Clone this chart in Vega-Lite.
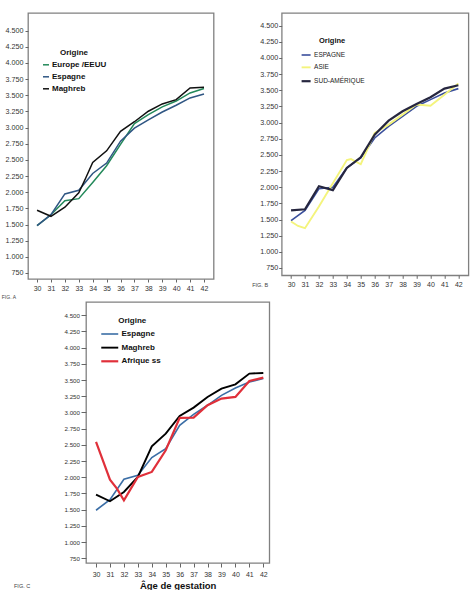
{
  "$schema": "https://vega.github.io/schema/vega-lite/v6.json",
  "background": "white",
  "padding": {"left": 0, "top": 12, "right": 0, "bottom": 0},
  "datasets": {
    "figA": [
      {"age": 30, "poids": 1483, "origine": "Europe /EEUU"},
      {"age": 31, "poids": 1650, "origine": "Europe /EEUU"},
      {"age": 32, "poids": 1869, "origine": "Europe /EEUU"},
      {"age": 33, "poids": 1900, "origine": "Europe /EEUU"},
      {"age": 34, "poids": 2150, "origine": "Europe /EEUU"},
      {"age": 35, "poids": 2410, "origine": "Europe /EEUU"},
      {"age": 36, "poids": 2740, "origine": "Europe /EEUU"},
      {"age": 37, "poids": 3060, "origine": "Europe /EEUU"},
      {"age": 38, "poids": 3200, "origine": "Europe /EEUU"},
      {"age": 39, "poids": 3320, "origine": "Europe /EEUU"},
      {"age": 40, "poids": 3410, "origine": "Europe /EEUU"},
      {"age": 41, "poids": 3535, "origine": "Europe /EEUU"},
      {"age": 42, "poids": 3603, "origine": "Europe /EEUU"},
      {"age": 30, "poids": 1483, "origine": "Espagne"},
      {"age": 31, "poids": 1653, "origine": "Espagne"},
      {"age": 32, "poids": 1973, "origine": "Espagne"},
      {"age": 33, "poids": 2030, "origine": "Espagne"},
      {"age": 34, "poids": 2290, "origine": "Espagne"},
      {"age": 35, "poids": 2450, "origine": "Espagne"},
      {"age": 36, "poids": 2790, "origine": "Espagne"},
      {"age": 37, "poids": 2990, "origine": "Espagne"},
      {"age": 38, "poids": 3120, "origine": "Espagne"},
      {"age": 39, "poids": 3240, "origine": "Espagne"},
      {"age": 40, "poids": 3345, "origine": "Espagne"},
      {"age": 41, "poids": 3458, "origine": "Espagne"},
      {"age": 42, "poids": 3520, "origine": "Espagne"},
      {"age": 30, "poids": 1720, "origine": "Maghreb"},
      {"age": 31, "poids": 1627, "origine": "Maghreb"},
      {"age": 32, "poids": 1767, "origine": "Maghreb"},
      {"age": 33, "poids": 1990, "origine": "Maghreb"},
      {"age": 33.5, "poids": 2220, "origine": "Maghreb"},
      {"age": 34, "poids": 2460, "origine": "Maghreb"},
      {"age": 35, "poids": 2640, "origine": "Maghreb"},
      {"age": 36, "poids": 2942, "origine": "Maghreb"},
      {"age": 37, "poids": 3090, "origine": "Maghreb"},
      {"age": 38, "poids": 3252, "origine": "Maghreb"},
      {"age": 39, "poids": 3365, "origine": "Maghreb"},
      {"age": 40, "poids": 3432, "origine": "Maghreb"},
      {"age": 41, "poids": 3613, "origine": "Maghreb"},
      {"age": 42, "poids": 3623, "origine": "Maghreb"}
    ],
    "figB": [
      {"age": 30, "poids": 1483, "origine": "ESPAGNE"},
      {"age": 31, "poids": 1640, "origine": "ESPAGNE"},
      {"age": 32, "poids": 1975, "origine": "ESPAGNE"},
      {"age": 33, "poids": 2000, "origine": "ESPAGNE"},
      {"age": 34, "poids": 2298, "origine": "ESPAGNE"},
      {"age": 35, "poids": 2452, "origine": "ESPAGNE"},
      {"age": 36, "poids": 2762, "origine": "ESPAGNE"},
      {"age": 37, "poids": 2942, "origine": "ESPAGNE"},
      {"age": 38, "poids": 3097, "origine": "ESPAGNE"},
      {"age": 39, "poids": 3252, "origine": "ESPAGNE"},
      {"age": 40, "poids": 3355, "origine": "ESPAGNE"},
      {"age": 41, "poids": 3458, "origine": "ESPAGNE"},
      {"age": 42, "poids": 3525, "origine": "ESPAGNE"},
      {"age": 30, "poids": 1470, "origine": "ASIE"},
      {"age": 30.5, "poids": 1400, "origine": "ASIE"},
      {"age": 31, "poids": 1365, "origine": "ASIE"},
      {"age": 32, "poids": 1700, "origine": "ASIE"},
      {"age": 33, "poids": 2060, "origine": "ASIE"},
      {"age": 34, "poids": 2420, "origine": "ASIE"},
      {"age": 34.3, "poids": 2435, "origine": "ASIE"},
      {"age": 35, "poids": 2355, "origine": "ASIE"},
      {"age": 36, "poids": 2839, "origine": "ASIE"},
      {"age": 37, "poids": 2968, "origine": "ASIE"},
      {"age": 38, "poids": 3123, "origine": "ASIE"},
      {"age": 39, "poids": 3278, "origine": "ASIE"},
      {"age": 40, "poids": 3260, "origine": "ASIE"},
      {"age": 41, "poids": 3432, "origine": "ASIE"},
      {"age": 42, "poids": 3605, "origine": "ASIE"},
      {"age": 30, "poids": 1640, "origine": "SUD-AMÉRIQUE"},
      {"age": 31, "poids": 1658, "origine": "SUD-AMÉRIQUE"},
      {"age": 32, "poids": 2014, "origine": "SUD-AMÉRIQUE"},
      {"age": 33, "poids": 1955, "origine": "SUD-AMÉRIQUE"},
      {"age": 34, "poids": 2298, "origine": "SUD-AMÉRIQUE"},
      {"age": 35, "poids": 2463, "origine": "SUD-AMÉRIQUE"},
      {"age": 36, "poids": 2813, "origine": "SUD-AMÉRIQUE"},
      {"age": 37, "poids": 3030, "origine": "SUD-AMÉRIQUE"},
      {"age": 38, "poids": 3174, "origine": "SUD-AMÉRIQUE"},
      {"age": 39, "poids": 3288, "origine": "SUD-AMÉRIQUE"},
      {"age": 40, "poids": 3391, "origine": "SUD-AMÉRIQUE"},
      {"age": 41, "poids": 3525, "origine": "SUD-AMÉRIQUE"},
      {"age": 42, "poids": 3577, "origine": "SUD-AMÉRIQUE"}
    ],
    "figC": [
      {"age": 30, "poids": 1491, "origine": "Espagne"},
      {"age": 31, "poids": 1655, "origine": "Espagne"},
      {"age": 32, "poids": 1969, "origine": "Espagne"},
      {"age": 33, "poids": 2031, "origine": "Espagne"},
      {"age": 34, "poids": 2304, "origine": "Espagne"},
      {"age": 35, "poids": 2442, "origine": "Espagne"},
      {"age": 36, "poids": 2802, "origine": "Espagne"},
      {"age": 37, "poids": 2972, "origine": "Espagne"},
      {"age": 38, "poids": 3111, "origine": "Espagne"},
      {"age": 39, "poids": 3265, "origine": "Espagne"},
      {"age": 40, "poids": 3379, "origine": "Espagne"},
      {"age": 41, "poids": 3471, "origine": "Espagne"},
      {"age": 42, "poids": 3523, "origine": "Espagne"},
      {"age": 30, "poids": 1733, "origine": "Maghreb"},
      {"age": 31, "poids": 1630, "origine": "Maghreb"},
      {"age": 32, "poids": 1774, "origine": "Maghreb"},
      {"age": 33, "poids": 2005, "origine": "Maghreb"},
      {"age": 34, "poids": 2478, "origine": "Maghreb"},
      {"age": 35, "poids": 2674, "origine": "Maghreb"},
      {"age": 36, "poids": 2947, "origine": "Maghreb"},
      {"age": 37, "poids": 3075, "origine": "Maghreb"},
      {"age": 38, "poids": 3240, "origine": "Maghreb"},
      {"age": 39, "poids": 3368, "origine": "Maghreb"},
      {"age": 40, "poids": 3435, "origine": "Maghreb"},
      {"age": 41, "poids": 3600, "origine": "Maghreb"},
      {"age": 42, "poids": 3610, "origine": "Maghreb"},
      {"age": 30, "poids": 2545, "origine": "Afrique ss"},
      {"age": 31, "poids": 1964, "origine": "Afrique ss"},
      {"age": 31.5, "poids": 1825, "origine": "Afrique ss"},
      {"age": 32, "poids": 1645, "origine": "Afrique ss"},
      {"age": 33, "poids": 2005, "origine": "Afrique ss"},
      {"age": 34, "poids": 2082, "origine": "Afrique ss"},
      {"age": 35, "poids": 2417, "origine": "Afrique ss"},
      {"age": 36, "poids": 2916, "origine": "Afrique ss"},
      {"age": 37, "poids": 2921, "origine": "Afrique ss"},
      {"age": 38, "poids": 3111, "origine": "Afrique ss"},
      {"age": 39, "poids": 3214, "origine": "Afrique ss"},
      {"age": 40, "poids": 3240, "origine": "Afrique ss"},
      {"age": 41, "poids": 3487, "origine": "Afrique ss"},
      {"age": 42, "poids": 3538, "origine": "Afrique ss"}
    ]
  },
  "vconcat": [
    {
      "hconcat": [
        {
          "width": 185.6,
          "height": 266,
          "view": {"stroke": "#808080", "strokeWidth": 1.3},
          "data": {"name": "figA"},
          "mark": {"type": "line", "interpolate": "linear"},
          "encoding": {
            "x": {
              "field": "age", "type": "quantitative",
              "scale": {"domain": [29.35, 42.69], "nice": false, "zero": false},
              "axis": {
                "values": [30, 31, 32, 33, 34, 35, 36, 37, 38, 39, 40, 41, 42],
                "labelFontSize": 7, "tickSize": 3, "labelPadding": 2,
                "title": "FIG. A", "titleFontSize": 5, "titleFontWeight": "normal",
                "titleColor": "#444", "titleAlign": "left", "titleBaseline": "middle",
                "titleX": -26.7, "titleY": 17.5
              }
            },
            "y": {
              "field": "poids", "type": "quantitative",
              "scale": {"domain": [657, 4772], "nice": false, "zero": false},
              "axis": {
                "values": [750, 1000, 1250, 1500, 1750, 2000, 2250, 2500, 2750, 3000, 3250, 3500, 3750, 4000, 4250, 4500],
                "format": ",d", "labelFontSize": 7.2, "tickSize": 3, "labelPadding": 2, "title": null
              }
            },
            "color": {
              "field": "origine", "type": "nominal",
              "scale": {"domain": ["Europe /EEUU", "Espagne", "Maghreb"], "range": ["#23895a", "#2f5683", "#111111"]},
              "legend": {
                "title": "Origine", "orient": "none", "legendX": 14, "legendY": 36, "padding": 0,
                "titleFontSize": 8, "titleFontWeight": "bold", "titleAnchor": "middle", "titlePadding": 3.8,
                "titleColor": "#111",
                "labelFont": "Liberation Sans Narrow, Liberation Sans, sans-serif",
                "labelFontSize": 8, "labelFontWeight": "bold", "labelColor": "#111", "labelOffset": 2,
                "symbolType": "stroke", "symbolSize": 36, "symbolStrokeWidth": 2.5, "rowPadding": 4
              }
            },
            "strokeWidth": {
              "field": "origine", "type": "nominal",
              "scale": {"domain": ["Europe /EEUU", "Espagne", "Maghreb"], "range": [1.5, 1.5, 2.2]},
              "legend": null
            }
          }
        },
        {
          "width": 186.7,
          "height": 262.3,
          "view": {"stroke": "#808080", "strokeWidth": 1.3},
          "data": {"name": "figB"},
          "mark": {"type": "line", "interpolate": "linear"},
          "encoding": {
            "x": {
              "field": "age", "type": "quantitative",
              "scale": {"domain": [29.33, 42.72], "nice": false, "zero": false},
              "axis": {
                "values": [30, 31, 32, 33, 34, 35, 36, 37, 38, 39, 40, 41, 42],
                "labelFontSize": 7, "tickSize": 3, "labelPadding": 2,
                "title": "FIG. B", "titleFontSize": 5.5, "titleFontWeight": "normal",
                "titleColor": "#444", "titleAlign": "left", "titleBaseline": "middle",
                "titleX": -30, "titleY": 9
              }
            },
            "y": {
              "field": "poids", "type": "quantitative",
              "scale": {"domain": [637, 4695], "nice": false, "zero": false},
              "axis": {
                "values": [750, 1000, 1250, 1500, 1750, 2000, 2250, 2500, 2750, 3000, 3250, 3500, 3750, 4000, 4250, 4500],
                "format": ",d", "labelFontSize": 7.2, "tickSize": 3, "labelPadding": 1, "title": null
              }
            },
            "color": {
              "field": "origine", "type": "nominal",
              "scale": {"domain": ["ESPAGNE", "ASIE", "SUD-AMÉRIQUE"], "range": ["#3a4f9c", "#f4f47c", "#26263f"]},
              "legend": {
                "title": "Origine", "orient": "none", "legendX": 18.4, "legendY": 24, "padding": 0,
                "titleFontSize": 7.5, "titleFontWeight": "bold", "titleAnchor": "middle", "titlePadding": 5,
                "titleColor": "#111",
                "labelFont": "Liberation Sans Narrow, Liberation Sans, sans-serif",
                "labelFontSize": 6.5, "labelFontWeight": "normal", "labelColor": "#222", "labelOffset": 2,
                "symbolType": "stroke", "symbolSize": 81, "symbolStrokeWidth": 2.8, "rowPadding": 3.35
              }
            },
            "strokeWidth": {
              "field": "origine", "type": "nominal",
              "scale": {"domain": ["ESPAGNE", "ASIE", "SUD-AMÉRIQUE"], "range": [1.6, 2.2, 1.8]},
              "legend": null
            }
          }
        }
      ],
      "spacing": 35.7,
      "resolve": {"scale": {"color": "independent", "strokeWidth": "independent", "x": "independent", "y": "independent"}, "legend": {"color": "independent"}}
    },
    {
      "hconcat": [
        {
          "width": 10,
          "height": 261,
          "view": {"stroke": null},
          "title": {"text": "FIG. C", "orient": "bottom", "anchor": "start", "frame": "group", "offset": 21, "dx": -14, "fontSize": 5.5, "fontWeight": "normal", "color": "#444"},
          "data": {"values": [{}]},
          "mark": "text",
          "encoding": {"text": {"value": ""}}
        },
        {
          "width": 183.3,
          "height": 261,
          "view": {"stroke": "#808080", "strokeWidth": 1.3},
          "data": {"name": "figC"},
          "mark": {"type": "line", "interpolate": "linear"},
          "encoding": {
            "x": {
              "field": "age", "type": "quantitative",
              "scale": {"domain": [29.28, 42.43], "nice": false, "zero": false},
              "axis": {
                "values": [30, 31, 32, 33, 34, 35, 36, 37, 38, 39, 40, 41, 42],
                "labelFontSize": 7, "tickSize": 4, "labelPadding": 3,
                "title": "Âge de gestation", "titleFontSize": 9.5, "titleFontWeight": "bold",
                "titleColor": "#111", "titlePadding": 3
              }
            },
            "y": {
              "field": "poids", "type": "quantitative",
              "scale": {"domain": [677, 4705], "nice": false, "zero": false},
              "axis": {
                "values": [750, 1000, 1250, 1500, 1750, 2000, 2250, 2500, 2750, 3000, 3250, 3500, 3750, 4000, 4250, 4500],
                "format": ",d", "labelFontSize": 6.2, "tickSize": 5, "labelPadding": 1.5, "title": null
              }
            },
            "color": {
              "field": "origine", "type": "nominal",
              "scale": {"domain": ["Espagne", "Maghreb", "Afrique ss"], "range": ["#3b6ea6", "#000000", "#e0303a"]},
              "legend": {
                "title": "Origine", "orient": "none", "legendX": 18.25, "legendY": 15, "padding": 0,
                "titleFontSize": 8, "titleFontWeight": "bold", "titleAnchor": "middle", "titlePadding": 3.5,
                "titleColor": "#111",
                "labelFont": "Liberation Sans Narrow, Liberation Sans, sans-serif",
                "labelFontSize": 8, "labelFontWeight": "bold", "labelColor": "#111", "labelOffset": 6.25,
                "symbolType": "M-2,0H2", "symbolSize": 72, "symbolStrokeWidth": 2, "rowPadding": 3.65
              }
            },
            "strokeWidth": {
              "field": "origine", "type": "nominal",
              "scale": {"domain": ["Espagne", "Maghreb", "Afrique ss"], "range": [1.6, 2.2, 1.8]},
              "legend": null
            }
          }
        }
      ],
      "spacing": 25,
      "resolve": {"scale": {"color": "independent", "strokeWidth": "independent", "x": "independent", "y": "independent"}, "legend": {"color": "independent"}}
    }
  ],
  "spacing": 0,
  "resolve": {"scale": {"color": "independent", "strokeWidth": "independent", "x": "independent", "y": "independent"}, "legend": {"color": "independent"}},
  "config": {
    "font": "Liberation Sans",
    "locale": {"number": {"decimal": ",", "thousands": ".", "grouping": [3], "currency": ["", " €"]}},
    "axis": {"grid": false, "domain": false, "tickColor": "#666", "labelColor": "#333"}
  }
}
